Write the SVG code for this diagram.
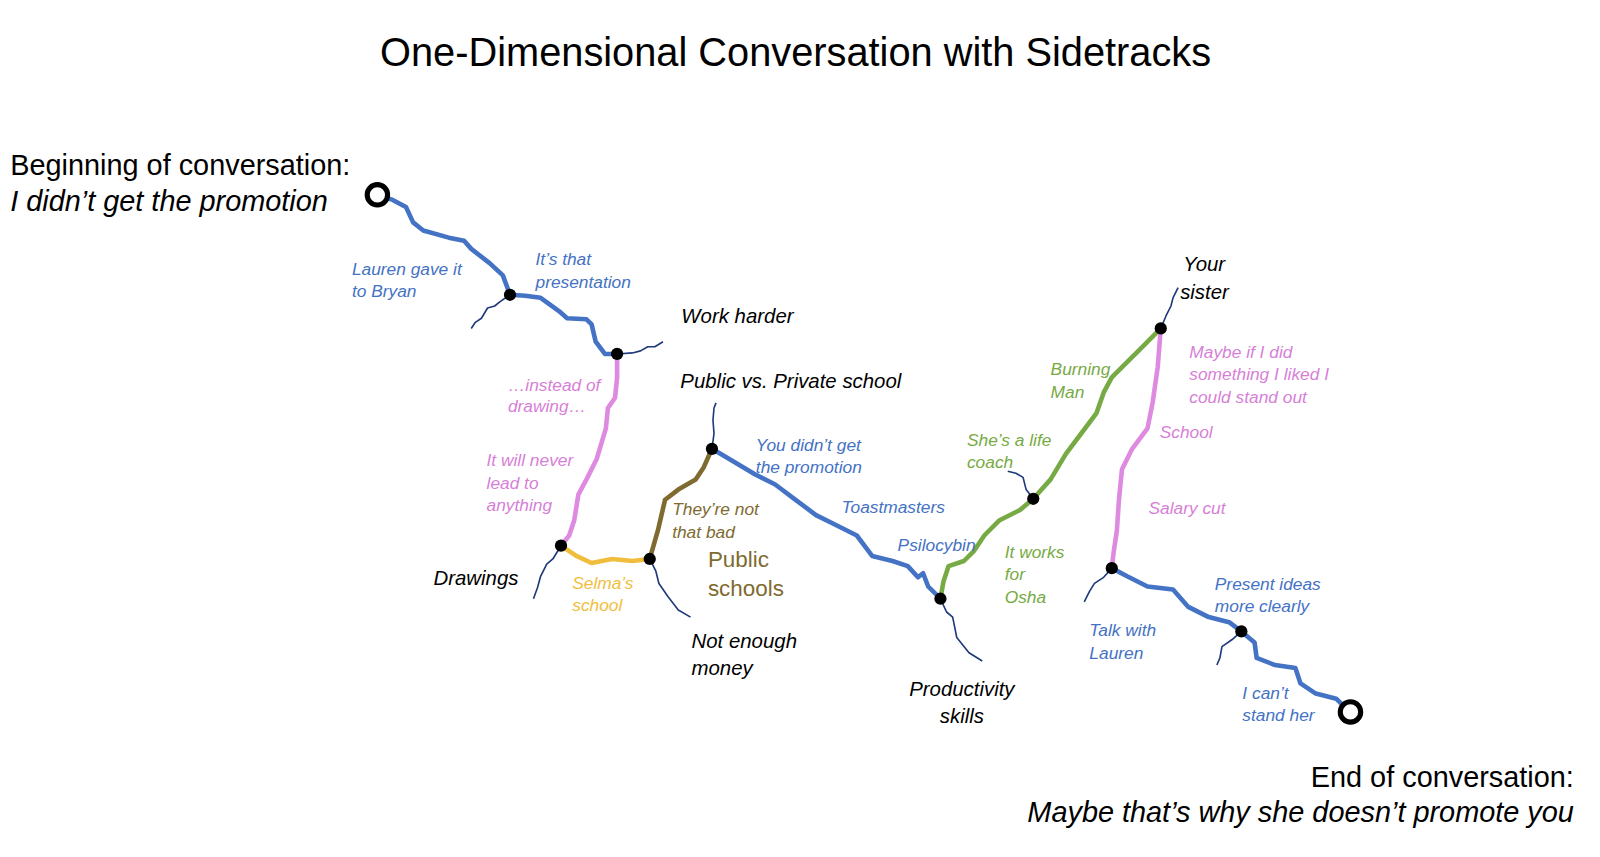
<svg xmlns="http://www.w3.org/2000/svg" width="1600" height="857" viewBox="0 0 1600 857">
<style>
text{font-family:"Helvetica Neue","Liberation Sans",Arial,sans-serif}
.t{font-size:39px;fill:#000}
.big{font-size:28.3px;fill:#000}
.bl{font-size:20px;font-style:italic;fill:#000}
.s{font-size:17px;font-style:italic}
.blue{fill:#4472C4}.pink{fill:#D77FD8}.yel{fill:#F0BE3C}.brn{fill:#7F6A30}.grn{fill:#77AA44}
.m{fill:none;stroke-width:4.5;stroke-linejoin:round;stroke-linecap:round}
.side{fill:none;stroke:#1F3A7A;stroke-width:1.6;stroke-linejoin:round}
.node{fill:#000}
.ring{fill:#fff;stroke:#000;stroke-width:5}
</style>
<rect width="1600" height="857" fill="#fff"/>
<g transform="scale(1.02)">
<text class="t" x="780" y="65" text-anchor="middle">One-Dimensional Conversation with Sidetracks</text>
<g id="connectors">
<polyline class="side" points="500,289 490,296 485,300 478,302 472,312 466,316 462,322"/>
<polyline class="side" points="605,347 620,346 628,344 635,340 642,340 650,335"/>
<polyline class="side" points="550,535 542,548 536,553 530,565 527,576 523,587"/>
<polyline class="side" points="637,548 643,560 646,572 655,585 665,598 677,605"/>
<polyline class="side" points="698,440 700,425 699,412 700,400 702,395"/>
<polyline class="side" points="922,587 928,600 934,605 938,625 950,640 963,648"/>
<polyline class="side" points="1013,489 1006,480 1003,468 996,464 988,462"/>
<polyline class="side" points="1138,322 1143,310 1148,300 1150,292 1155,282"/>
<polyline class="side" points="1090,557 1082,566 1073,572 1068,580 1063,590"/>
<polyline class="side" points="1217,619 1208,627 1198,634 1196,645 1193,652"/>
<polyline class="m" stroke="#4472C4" points="370,191 385,196 398,203 405,218 415,226 440,233 455,236 462,244 480,258 493,270 500,289 515,290 530,292 548,305 556,312 575,313 580,318 584,335 593,347 605,347"/>
<polyline class="m" stroke="#DE8AE0" points="605,347 605,370 603,390 596,400 594,420 585,450 575,470 567,485 563,510 558,525 550,535"/>
<polyline class="m" stroke="#F0BE3C" points="550,535 565,545 580,552 600,548 620,550 637,548"/>
<polyline class="m" stroke="#7F6A30" points="637,548 645,520 652,490 665,480 682,470 690,458 698,440"/>
<polyline class="m" stroke="#4472C4" points="698,440 715,450 740,465 760,475 780,490 800,505 820,515 840,525 855,545 875,550 890,555 900,566 905,562 910,575 922,587"/>
<polyline class="m" stroke="#77AA44" points="922,587 925,570 930,555 945,550 955,540 965,525 980,510 1000,500 1013,489 1030,470 1045,445 1060,425 1075,405 1082,385 1090,370 1105,355 1120,340 1130,330 1138,322"/>
<polyline class="m" stroke="#DE8AE0" points="1138,322 1135,360 1130,395 1125,420 1110,440 1100,460 1097,490 1095,520 1092,540 1090,557"/>
<polyline class="m" stroke="#4472C4" points="1090,557 1105,565 1125,575 1150,578 1165,595 1185,605 1205,610 1217,619 1230,630 1232,645 1250,652 1270,655 1275,670 1290,680 1310,685 1323,698"/>
</g>
<g id="start"><circle class="ring" cx="370" cy="191" r="10"/>
<text class="big" x="10" y="172">Beginning of conversation:</text>
<text class="big" x="10" y="207" font-style="italic">I didn’t get the promotion</text></g>
<g id="end"><circle class="ring" cx="1324" cy="698" r="10"/>
<text class="big" x="1543" y="772" text-anchor="end">End of conversation:</text>
<text class="big" x="1543" y="806" text-anchor="end" font-style="italic">Maybe that’s why she doesn’t promote you</text></g>
<g id="n1"><circle class="node" cx="500" cy="289" r="6"/>
<text class="s blue" x="345" y="270">Lauren gave it</text><text class="s blue" x="345" y="291">to Bryan</text>
<text class="s blue" x="525" y="260">It’s that</text><text class="s blue" x="525" y="282">presentation</text></g>
<g id="n2"><circle class="node" cx="605" cy="347" r="6"/>
<text class="bl" x="668" y="317">Work harder</text>
<text class="s pink" x="498" y="383">…instead of</text><text class="s pink" x="498" y="404">drawing…</text>
<text class="s pink" x="477" y="457">It will never</text><text class="s pink" x="477" y="479">lead to</text><text class="s pink" x="477" y="501">anything</text></g>
<g id="n3"><circle class="node" cx="550" cy="535" r="6"/>
<text class="bl" x="425" y="574">Drawings</text>
<text class="s yel" x="561" y="577">Selma’s</text><text class="s yel" x="561" y="599">school</text></g>
<g id="n4"><circle class="node" cx="637" cy="548" r="6"/>
<text class="bl" x="678" y="635">Not enough</text><text class="bl" x="678" y="662">money</text>
<text class="s brn" x="659" y="505">They’re not</text><text class="s brn" x="659" y="527">that bad</text>
<text class="brn" font-size="22" x="694" y="556">Public</text><text class="brn" font-size="22" x="694" y="584">schools</text></g>
<g id="n5"><circle class="node" cx="698" cy="440" r="6"/>
<text class="bl" x="667" y="380">Public vs. Private school</text>
<text class="s blue" x="741" y="442">You didn’t get</text><text class="s blue" x="741" y="464">the promotion</text>
<text class="s blue" x="825" y="503">Toastmasters</text>
<text class="s blue" x="880" y="540">Psilocybin</text></g>
<g id="n6"><circle class="node" cx="922" cy="587" r="6"/>
<text class="bl" x="943" y="682" text-anchor="middle">Productivity</text><text class="bl" x="943" y="709" text-anchor="middle">skills</text>
<text class="s grn" x="985" y="547">It works</text><text class="s grn" x="985" y="569">for</text><text class="s grn" x="985" y="591">Osha</text></g>
<g id="n7"><circle class="node" cx="1013" cy="489" r="6"/>
<text class="s grn" x="948" y="437">She’s a life</text><text class="s grn" x="948" y="459">coach</text>
<text class="s grn" x="1030" y="368">Burning</text><text class="s grn" x="1030" y="390">Man</text></g>
<g id="n8"><circle class="node" cx="1138" cy="322" r="6"/>
<text class="bl" x="1160" y="266">Your</text><text class="bl" x="1157" y="293">sister</text>
<text class="s pink" x="1166" y="351">Maybe if I did</text><text class="s pink" x="1166" y="373">something I liked I</text><text class="s pink" x="1166" y="395">could stand out</text>
<text class="s pink" x="1137" y="429">School</text>
<text class="s pink" x="1126" y="504">Salary cut</text></g>
<g id="n9"><circle class="node" cx="1090" cy="557" r="6"/>
<text class="s blue" x="1068" y="624">Talk with</text><text class="s blue" x="1068" y="646">Lauren</text></g>
<g id="n10"><circle class="node" cx="1217" cy="619" r="6"/>
<text class="s blue" x="1191" y="578">Present ideas</text><text class="s blue" x="1191" y="600">more clearly</text>
<text class="s blue" x="1218" y="685">I can’t</text><text class="s blue" x="1218" y="707">stand her</text></g>
</g>
</svg>
